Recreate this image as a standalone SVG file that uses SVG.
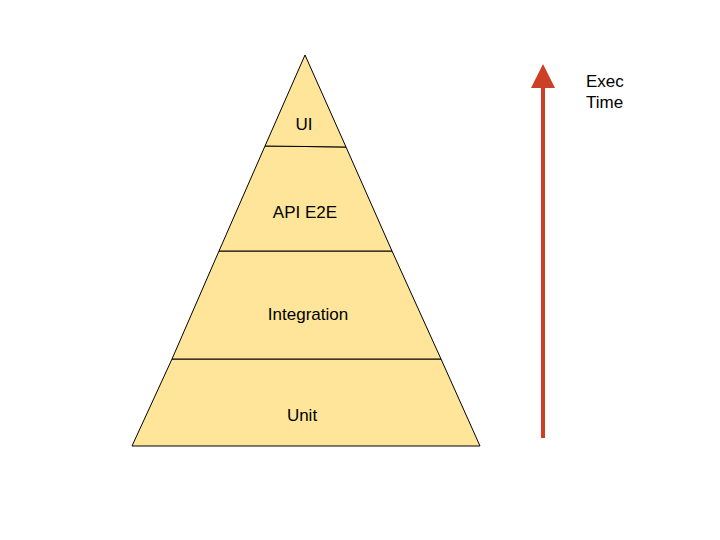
<svg xmlns="http://www.w3.org/2000/svg" width="720" height="540" viewBox="0 0 720 540">
<style>
.layer{fill:#ffe599;stroke:#000;stroke-width:1}
.t{font-family:"Liberation Sans",Arial,sans-serif;font-size:17px;fill:#000}
</style>
<defs>
<marker id="ah" markerWidth="6" markerHeight="6" refX="3" refY="3" orient="auto" markerUnits="strokeWidth">
<path d="M0,0 L6,3 L0,6 z" fill="#cc4125"/>
</marker>
</defs>
<rect width="720" height="540" fill="#fff"/>
<g id="unit"><polygon class="layer" points="172,359 441,359 480,446 132,446"/><text class="t" x="302" y="421" text-anchor="middle">Unit</text></g>
<g id="integration"><polygon class="layer" points="219,251 392,251 441,359 172,359"/><text class="t" x="308" y="320" text-anchor="middle">Integration</text></g>
<g id="api"><polygon class="layer" points="265,146 346,147 392,251 219,251"/><text class="t" x="305" y="218" text-anchor="middle">API E2E</text></g>
<g id="ui"><polygon class="layer" points="305,55 346,147 265,146"/><text class="t" x="304" y="130" text-anchor="middle">UI</text></g>
<g id="connectors"><line x1="543" y1="438" x2="543" y2="76" stroke="#cc4125" stroke-width="4" marker-end="url(#ah)"/></g>
<g id="label"><text class="t" x="586" y="87">Exec</text><text class="t" x="586" y="108">Time</text></g>
</svg>
